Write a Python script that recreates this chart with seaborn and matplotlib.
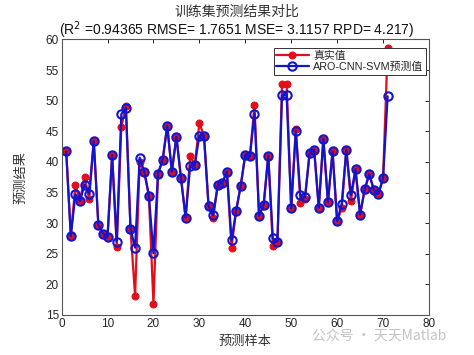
import matplotlib
matplotlib.use("Agg")
import matplotlib.pyplot as plt
import seaborn as sns
import pandas as pd

samples = list(range(1, 72))
true_vals = [41.7, 27.9, 36.2, 33.6, 37.6, 33.9, 43.4, 29.7, 28.3, 27.8,
             41.1, 26.1, 45.7, 49.1, 29.1, 18.1, 40.0, 38.4, 34.5, 16.8,
             38.1, 40.3, 45.9, 38.4, 44.1, 37.3, 30.9, 41.0, 39.5, 46.3,
             44.3, 32.8, 30.9, 36.2, 36.6, 38.4, 26.0, 32.0, 36.1, 41.2,
             40.9, 49.3, 31.2, 33.0, 41.0, 26.3, 27.0, 52.7, 52.7, 32.4,
             45.4, 33.3, 34.0, 41.4, 42.0, 32.5, 43.8, 33.4, 41.7, 30.3,
             32.4, 42.0, 33.6, 38.8, 31.4, 35.5, 38.0, 35.4, 34.8, 37.3,
             58.6]
pred_vals = [41.7, 27.9, 34.7, 33.6, 36.3, 34.8, 43.4, 29.7, 28.3, 27.8,
             41.1, 27.0, 47.8, 48.8, 29.1, 26.0, 40.7, 38.4, 34.5, 25.1,
             38.1, 40.3, 45.9, 38.4, 44.1, 37.3, 30.9, 39.4, 39.5, 44.3,
             44.3, 32.8, 31.3, 36.2, 36.6, 38.4, 27.2, 32.0, 36.1, 41.2,
             40.9, 47.9, 31.2, 33.0, 41.0, 27.5, 27.0, 50.9, 50.9, 32.4,
             45.0, 34.6, 34.2, 41.4, 42.0, 32.5, 43.8, 33.4, 41.7, 30.3,
             33.2, 42.0, 34.6, 38.8, 31.4, 35.5, 38.0, 35.4, 34.8, 37.3,
             50.7]
label_true = "真实值"
label_pred = "ARO-CNN-SVM预测值"
x_ticks = [0, 10, 20, 30, 40, 50, 60, 70, 80]
y_ticks = [15, 20, 25, 30, 35, 40, 45, 50, 55, 60]

sns.set_theme(style="white")
plt.rcParams['font.family'] = ['Liberation Sans', 'Noto Sans CJK SC', 'DejaVu Sans']
plt.rcParams['axes.unicode_minus'] = False

df = pd.DataFrame({"x": samples, "true": true_vals, "pred": pred_vals})

fig = plt.figure(figsize=(4.74, 3.55), dpi=100)
ax = fig.add_axes([0.130, 0.1127, 0.775, 0.7763])

red = (0.88, 0.06, 0.10)
blue = (0.08, 0.08, 0.80)

sns.lineplot(data=df, x="x", y="true", ax=ax, color=red, linewidth=1.6,
             marker="o", markersize=5, markerfacecolor=red,
             markeredgecolor=red, label=label_true)
sns.lineplot(data=df, x="x", y="pred", ax=ax, color=blue, linewidth=1.6,
             marker="o", markersize=6, markerfacecolor="none",
             markeredgecolor=blue, markeredgewidth=1.5, label=label_pred)

ax.set_xlim(0, 80)
ax.set_ylim(15, 60)
ax.set_xticks(x_ticks)
ax.set_yticks(y_ticks)
ax.tick_params(direction="in", length=3, width=0.7, top=True, right=True,
               labelsize=8.5, colors="#262626", pad=2)
for s in ax.spines.values():
    s.set_color("#555555")
    s.set_linewidth(0.8)

ax.set_xlabel("预测样本", fontsize=9.5, color="#333333", labelpad=4,
              family=['Noto Sans CJK SC', 'DejaVu Sans'])
ax.set_ylabel("预测结果", fontsize=9.5, color="#333333", labelpad=13,
              family=['Noto Sans CJK SC', 'DejaVu Sans'])

fig.text(0.5, 0.968, "训练集预测结果对比", ha="center", va="center",
         fontsize=10, color="#333333", family=['Noto Sans CJK SC', 'DejaVu Sans'])
fig.text(0.5, 0.915, "(R$^2$ =0.94365 RMSE= 1.7651 MSE= 3.1157 RPD= 4.217)",
         ha="center", va="center", fontsize=10, color="#111111")

leg = ax.legend(loc="upper right", bbox_to_anchor=(0.992, 0.968),
                frameon=True, fancybox=False,
                framealpha=1, edgecolor="#333333", borderaxespad=0.0,
                handlelength=3.0, borderpad=0.25, labelspacing=0.1,
                handletextpad=0.4,
                prop={'family': ['Liberation Sans', 'Noto Sans CJK SC'], 'size': 7.8})
leg.get_frame().set_linewidth(0.7)

fig.text(0.80, 0.053, "公众号 · 天天Matlab", ha="center", va="center",
         fontsize=10, color="#c4c4c4", family=['Noto Sans CJK SC', 'DejaVu Sans'])

fig.savefig("out.png", dpi=100)
